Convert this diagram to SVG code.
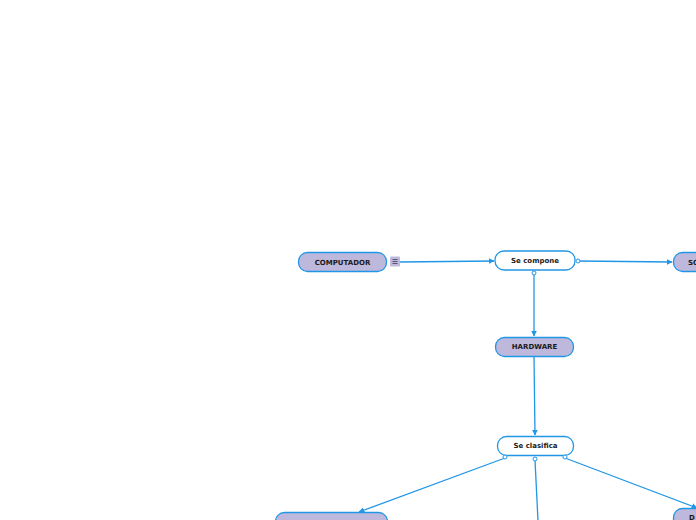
<svg xmlns="http://www.w3.org/2000/svg" width="696" height="520" viewBox="0 0 696 520">
<defs>
<style>
.main{fill:#bdb8dc;stroke:#2196e6;stroke-width:1.3}
.sub{fill:#ffffff;stroke:#2196e6;stroke-width:1.3}
.lbl{font-family:"DejaVu Sans",Verdana,sans-serif;font-weight:bold;font-size:7px;fill:#1a1a1a;text-anchor:middle;dominant-baseline:central}
.edge{fill:none;stroke:#2196e6;stroke-width:1.3}
.knob{fill:#ffffff;stroke:#2196e6;stroke-width:1}
</style>
<marker id="arr" viewBox="0 0 10 10" refX="9" refY="5" markerWidth="6" markerHeight="6" orient="auto" markerUnits="userSpaceOnUse">
<path d="M0,0 L10,5 L0,10 z" fill="#2196e6"/>
</marker>
</defs>
<rect width="696" height="520" fill="#ffffff"/>
<g id="connectors">
<line class="edge" x1="400" y1="262" x2="494" y2="261" marker-end="url(#arr)"/>
<line class="edge" x1="578" y1="261" x2="672" y2="262" marker-end="url(#arr)"/>
<line class="edge" x1="534" y1="274" x2="534" y2="336" marker-end="url(#arr)"/>
<line class="edge" x1="534" y1="357" x2="535" y2="435" marker-end="url(#arr)"/>
<line class="edge" x1="505" y1="458" x2="359" y2="512" marker-end="url(#arr)"/>
<line class="edge" x1="535" y1="460" x2="538" y2="521"/>
<line class="edge" x1="565" y1="458" x2="697" y2="508" marker-end="url(#arr)"/>
</g>
<g id="computador">
<rect class="main" x="298.5" y="252.5" width="88" height="19" rx="9"/>
<text class="lbl" x="342.5" y="262.5">COMPUTADOR</text>
<rect x="390" y="256.5" width="10" height="10" rx="1" fill="#bdb8dc"/>
<path d="M392.5,259.5h5M392.5,261.5h5M392.5,263.5h5" stroke="#3a3a5a" stroke-width="0.8"/>
</g>
<g id="se-compone">
<rect class="sub" x="495" y="251" width="80" height="19" rx="9"/>
<text class="lbl" x="535" y="260.5">Se compone</text>
<circle class="knob" cx="578" cy="261" r="2"/>
<circle class="knob" cx="534" cy="273" r="2"/>
</g>
<g id="software">
<rect class="main" x="673.5" y="252.5" width="88" height="19" rx="9"/>
<text class="lbl" x="688" y="262.5" style="text-anchor:start">SO</text>
</g>
<g id="hardware">
<rect class="main" x="495.5" y="337.5" width="78" height="19" rx="9"/>
<text class="lbl" x="534.5" y="347">HARDWARE</text>
</g>
<g id="se-clasifica">
<rect class="sub" x="497.5" y="436.5" width="76" height="19" rx="9"/>
<text class="lbl" x="535.5" y="446">Se clasifica</text>
<circle class="knob" cx="505" cy="457" r="2"/>
<circle class="knob" cx="535" cy="459" r="2"/>
<circle class="knob" cx="565" cy="457" r="2"/>
</g>
<g id="node-left">
<rect class="main" x="275.5" y="512.5" width="112" height="19" rx="9"/>
</g>
<g id="node-right">
<rect class="main" x="673.5" y="508.5" width="88" height="19" rx="9"/>
<text class="lbl" x="689" y="518" style="text-anchor:start">D</text>
</g>
</svg>
